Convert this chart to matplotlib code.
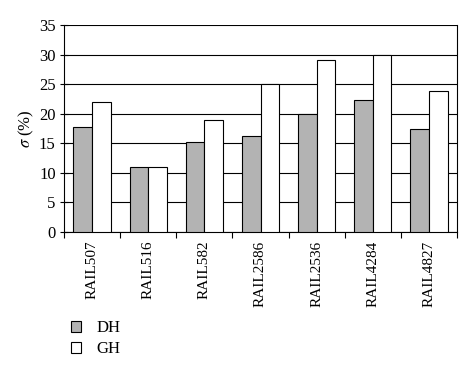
import matplotlib.pyplot as plt
import numpy as np

plt.rcParams['font.family'] = ['Liberation Serif', 'DejaVu Serif']
plt.rcParams['mathtext.fontset'] = 'stix'

categories = ['RAIL507', 'RAIL516', 'RAIL582', 'RAIL2586', 'RAIL2536', 'RAIL4284', 'RAIL4827']
dh = [17.8, 11.0, 15.2, 16.3, 19.9, 22.3, 17.5]
gh = [21.9, 11.0, 19.0, 25.0, 29.0, 30.0, 23.9]

fig = plt.figure(figsize=(4.74, 3.72), dpi=100)
ax = fig.add_axes([64 / 474, 1 - 232 / 372, (457 - 64) / 474, (232 - 25) / 372])

x = np.arange(len(categories))
w = 1 / 3
b1 = ax.bar(x - w / 2, dh, w, color='#b3b3b3', edgecolor='black', linewidth=0.8, label='DH', zorder=3)
b2 = ax.bar(x + w / 2, gh, w, color='white', edgecolor='black', linewidth=0.8, label='GH', zorder=3)

ax.set_xlim(-0.5, len(categories) - 0.5)
ax.set_ylim(0, 35)
ax.set_yticks(range(0, 36, 5))
ax.yaxis.grid(True, color='black', linewidth=0.8, zorder=0)
ax.tick_params(axis='y', labelsize=12, length=6, direction='inout', width=0.8, pad=3)

ax.set_xticks(np.arange(-0.5, len(categories), 1))
ax.set_xticklabels([])
ax.set_xticks(x, minor=True)
ax.set_xticklabels(categories, minor=True, rotation=90, fontsize=11)
ax.tick_params(axis='x', which='major', length=4, width=0.8)
ax.tick_params(axis='x', which='minor', length=0, pad=6)

for s in ax.spines.values():
    s.set_linewidth(0.8)
ax.spines['top'].set_visible(False)

ax.set_ylabel(r'$\sigma$ (%)', fontsize=12, labelpad=2)

fig.legend(handles=[b1, b2], labels=['DH', 'GH'], loc='upper left',
           bbox_to_anchor=(63 / 474, 1 - 312 / 372), frameon=False,
           fontsize=12, handlelength=0.6, handleheight=0.6, labelspacing=0.3,
           handletextpad=0.9, borderpad=0)

fig.savefig('out.png', dpi=100)
